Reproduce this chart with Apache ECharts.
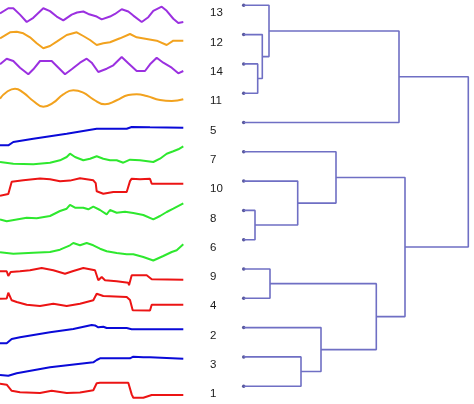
<!DOCTYPE html>
<html>
<head>
    <meta charset="utf-8">
    <title>Clustering of time series</title>
    <script src="https://cdn.jsdelivr.net/npm/echarts@6/dist/echarts.min.js"></script>
    <style>
        html, body { margin: 0; padding: 0; background: #fff; }
        #main { width: 474px; height: 404px; }
    </style>
</head>
<body>
    <div id="main"></div>
    <script type="text/javascript">
        // leaf order, top to bottom (also the row order of the small series)
        const leafOrder = ['13', '12', '14', '11', '5', '7', '10', '8', '6', '9', '4', '2', '3', '1'];

        // series values, [time, value]
        const s13 = [[0, 0.6], [8.3, 6], [13.3, 6], [20, -0.7], [26.7, -8.4], [33.3, -4], [43.3, 6], [50, 3], [56.7, -2.7], [63.3, -6.7], [71.7, -0.7], [77, 1.5], [83.3, 2.6], [88.3, 0], [96.7, -2.7], [101.7, -5.7], [110, -2.7], [115, 0], [121.7, 5], [128.3, 2.6], [133.3, -1.7], [141.7, -8.4], [148.3, -3.4], [153.3, 3.3], [161.7, 7.6], [166.7, 3.3], [173.3, -5], [178.3, -9.4], [183.3, -8.4]];
        const s12 = [[0, 4.3], [10, 10.3], [16.7, 10.9], [23.3, 9.3], [30, 5.3], [36.7, -0.7], [43.3, -5.7], [50, -3.4], [56.7, 0.9], [66.7, 7.6], [76.7, 10.3], [83.3, 6.6], [90, 2.6], [96.7, -2.4], [103.3, -0.7], [110, 0.3], [120, 4.3], [130, 8.6], [136.7, 5.3], [146.7, 3.6], [156.7, 1.9], [166.7, -2.4], [173.3, 1.9], [183.3, 1.9]];
        const s14 = [[0, 7.6], [6.7, 13.2], [13.3, 10.9], [20, 4.2], [28.3, -2.4], [33.3, 2.6], [40, 10.9], [51.7, 10.9], [56.7, 5.9], [65, -2.4], [71.7, 2.6], [80, 9.2], [86.7, 13.2], [91.7, 9.2], [98.3, -0.1], [106.7, 3.2], [113.3, 6.6], [121.7, 14.9], [128.3, 8.6], [136.7, 0.9], [145, 0.9], [150, 7.6], [156.7, 14.2], [163.3, 9.2], [171.7, 4.2], [178.3, -1.4], [183.3, 0.9]];
        const s11 = [[0, 2.5], [6.7, 9.2], [15, 12.5], [23.3, 8.5], [33.3, 0.2], [43.3, -5.5], [53.3, -1.5], [63.3, 6.9], [73.3, 10.9], [83.3, 8.5], [93.3, 1.9], [105, -3.1], [116.7, 0.9], [128.3, 6.2], [136.7, 6.9], [146.7, 5.2], [160, 1.2], [171.7, 0.2], [183.3, 1.9]];
        const s5 = [[0, -14.8], [8.3, -14.8], [13.3, -11.5], [33.3, -8.2], [66.7, -3.2], [96.7, 1.8], [100, 1.8], [126.7, 1.8], [128.3, 1.2], [131.7, 3.5], [150, 3.2], [183.3, 2.8]];
        const s7 = [[0, -2.2], [13.3, -3.9], [33.3, -4.5], [50, -2.9], [60, -0.5], [66.7, 2.8], [70, 6.1], [75, 2.8], [83.3, -0.5], [90, 1.1], [96.7, 3.5], [103.3, 1.1], [110, -0.5], [116.7, -0.5], [123.3, -2.9], [130, 0.1], [140, -0.5], [153.3, -2.2], [160, 1.1], [166.7, 6.1], [173.3, 8.5], [178.3, 10.5], [183.3, 13.5]];
        const s10 = [[0, -6.6], [8.3, -5], [11.7, 7.4], [23.3, 8.8], [40, 10.5], [50, 9.8], [60, 7.8], [70, 8.5], [80, 10.8], [93.3, 8.8], [95.7, 6], [96.7, -2.2], [103.3, -4.6], [113.3, -2.9], [126.7, -2.9], [130, 8], [131.7, 10.4], [140, 9.8], [150, 10.4], [151.7, 5.4], [183.3, 5.4]];
        const s8 = [[0, -1], [6.7, -2.9], [16.7, -1], [26.7, 0.7], [36.7, 0.2], [50, 2.4], [60, 7.4], [66.7, 9.7], [70, 13.6], [75, 10.7], [83.3, 10.7], [88.3, 9.1], [93.3, 11.7], [100, 8.4], [106.7, 4.1], [110, 8.4], [116.7, 5.7], [125, 6.7], [126.7, 5], [133.3, 5.4], [143.3, 3.4], [153.3, -1], [160, 2.4], [166.7, 6.4], [173.3, 9.7], [183.3, 15]];
        const s6 = [[0, -4.5], [13.3, -6], [23.3, -5.5], [33.3, -5], [50, -4.3], [60, -2], [70, 2.4], [73.3, 4.7], [80, 2.5], [86.7, 4.7], [93.3, 2.4], [100, -1], [106.7, -3.6], [116.7, -5.3], [126.7, -6.5], [133.3, -6.5], [143.3, -9.3], [153.3, -12.8], [163.3, -8.3], [171.7, -4.3], [176.7, -2.5], [183.3, 3.5]];
        const s9 = [[0, 5.7], [6.7, 5.7], [8.3, 1], [10.7, 5], [20, 5.7], [30, 6.7], [41.7, 9], [53.3, 6.7], [65, 3.3], [73.3, 6], [83.3, 9], [95, 6.7], [98.3, -3.3], [101.7, 0], [105, -3.3], [116.7, -4.3], [128.3, -5.7], [129, -8.3], [131.7, 1.7], [146.7, 1.7], [151.7, -2.3], [183.3, -2.7]];
        const s4 = [[0, 7.6], [6.7, 7.9], [8.3, 13.6], [11.7, 6], [16.7, 4.3], [26.7, 1.6], [40, 0.3], [53.3, 2.6], [66.7, 0.3], [80, 2.6], [93.3, 6], [96.7, 12.6], [103.3, 10.3], [126.7, 9.3], [130, 6.3], [132.7, -4], [150, -4.2], [151.7, 1.6], [183.3, 1.6]];
        const s2 = [[0, -7.7], [6.7, -7.7], [11.7, -3.4], [20, -1.7], [50, 3.3], [73.3, 6.6], [91.7, 10.6], [95, 10.2], [98.3, 8.3], [103.3, 8.9], [106.7, 7.6], [126.7, 7.6], [131.7, 6.3], [183.3, 6.3]];
        const s3 = [[0, -10.1], [8.3, -10.8], [16.7, -8.4], [50, -2.4], [93.3, 2.6], [96.7, 4.9], [100, 6.6], [130, 6.6], [133.3, 8.2], [143.3, 7.6], [150, 7.6], [151.7, 6.2], [183.3, 6.2]];
        const s1 = [[0, 9.5], [6.7, 8.5], [11.7, 1.2], [20, -0.5], [40, -1.5], [51.7, 1.2], [66.7, -1.5], [80, -0.8], [93.3, 1.9], [96.7, 10.2], [100, 10.9], [128.3, 10.9], [131.7, -3.1], [133.3, -7.1], [143.3, -7.1], [151.7, -3.8], [183.3, -3.8]];

        const seriesByLeaf = {
            '13': s13, '12': s12, '14': s14, '11': s11, '5': s5, '7': s7, '10': s10,
            '8': s8, '6': s6, '9': s9, '4': s4, '2': s2, '3': s3, '1': s1
        };
        const colorByLeaf = {
            '13': '#9b30e0', '14': '#9b30e0',
            '12': '#f2a21e', '11': '#f2a21e',
            '5': '#0a0ad8', '2': '#0a0ad8', '3': '#0a0ad8',
            '7': '#2ee82e', '8': '#2ee82e', '6': '#2ee82e',
            '10': '#ec1414', '9': '#ec1414', '4': '#ec1414', '1': '#ec1414'
        };

        // linkage: [left, right, merge distance]; 'cN' = cluster made on row N
        const links = [
            ['14', '11', 14.0],   // c0
            ['12', 'c0', 18.6],   // c1
            ['13', 'c1', 25.3],   // c2
            ['c2', '5', 155.3],   // c3
            ['8', '6', 11.3],     // c4
            ['10', 'c4', 54.0],   // c5
            ['7', 'c5', 92.3],    // c6
            ['9', '4', 26.3],     // c7
            ['3', '1', 57.3],     // c8
            ['2', 'c8', 77.3],    // c9
            ['c7', 'c9', 132.6],  // c10
            ['c6', 'c10', 161.3], // c11
            ['c3', 'c11', 224.6]  // c12
        ];

        const rowStep = 29.3;
        const rowTop = 13.3 - 14.65;
        const chart = echarts.init(document.getElementById('main'), null, { renderer: 'canvas' });

        const grids = [], xAxes = [], yAxes = [], series = [];

        // small series, one grid per row
        leafOrder.forEach(function (name, i) {
            grids.push({ left: 0, top: rowTop + rowStep * i, width: 183.3, height: rowStep });
            xAxes.push({ gridIndex: i, type: 'value', min: 0, max: 183.3, show: false });
            yAxes.push({ gridIndex: i, type: 'value', min: -14.65, max: 14.65, show: false });
            series.push({
                type: 'line',
                xAxisIndex: i,
                yAxisIndex: i,
                data: seriesByLeaf[name],
                showSymbol: false,
                smooth: name === '11' ? 0.5 : false,
                clip: false,
                lineStyle: { color: colorByLeaf[name], width: 2 },
                silent: true
            });
        });

        // dendrogram
        const d = leafOrder.length;
        grids.push({ left: 243.7, top: 5.3, width: 224.6, height: 380.9 });
        xAxes.push({ gridIndex: d, type: 'value', min: 0, max: 224.6, show: false });
        yAxes.push({
            gridIndex: d, type: 'value', min: 0, max: 13, interval: 1, inverse: true,
            axisLine: { show: false }, axisTick: { show: false }, splitLine: { show: false },
            axisLabel: {
                show: true, margin: 33.7, align: 'left', verticalAlign: 'top', padding: [2, 0, 0, 0],
                color: '#1a1a1a', fontSize: 11.5, fontFamily: 'Liberation Sans, Arial, sans-serif',
                formatter: function (v) { return leafOrder[v]; }
            }
        });

        const pos = {};
        leafOrder.forEach(function (name, i) { pos[name] = [0, i]; });
        links.forEach(function (l, k) {
            const a = pos[l[0]], b = pos[l[1]], h = l[2];
            pos['c' + k] = [h, (a[1] + b[1]) / 2];
            series.push({
                type: 'line',
                xAxisIndex: d,
                yAxisIndex: d,
                data: [[a[0], a[1]], [h, a[1]], [h, b[1]], [b[0], b[1]]],
                showSymbol: false,
                clip: false,
                lineStyle: { color: '#6f6fc4', width: 1.6 },
                silent: true
            });
        });
        series.push({
            type: 'scatter',
            xAxisIndex: d,
            yAxisIndex: d,
            data: leafOrder.map(function (name, i) { return [0, i]; }),
            symbolSize: 3.5,
            itemStyle: { color: '#2b2b80' },
            silent: true
        });

        chart.setOption({
            animation: false,
            grid: grids,
            xAxis: xAxes,
            yAxis: yAxes,
            series: series
        });

        window.addEventListener('resize', function () {
            chart.resize();
        });
    </script>
</body>
</html>
